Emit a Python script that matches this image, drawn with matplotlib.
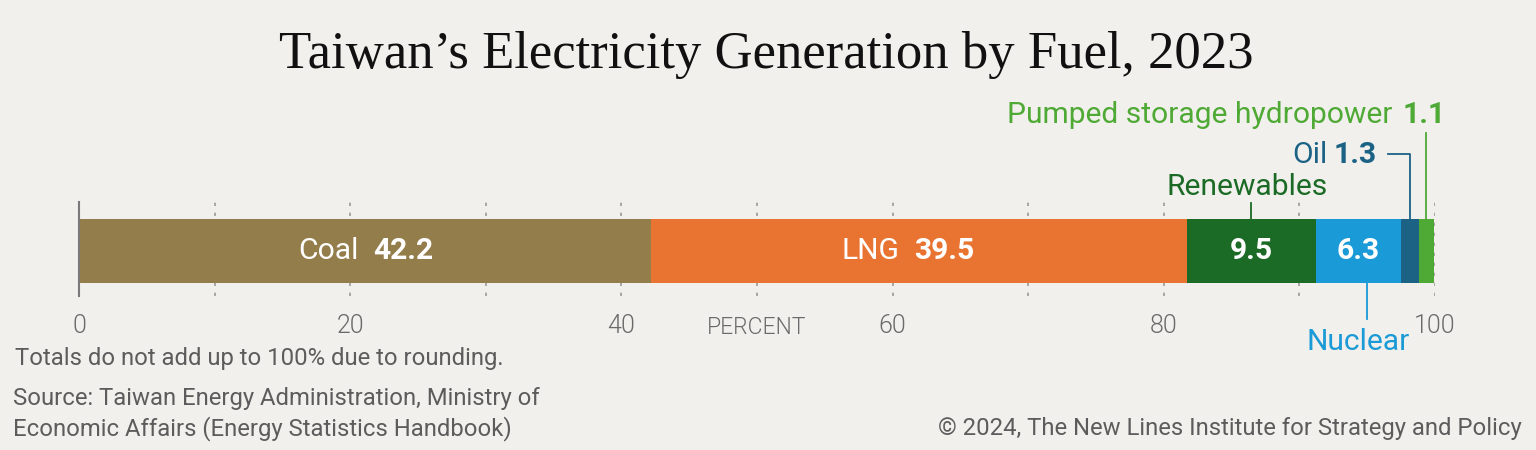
import matplotlib.pyplot as plt
import numpy as np

FIGSIZE = (15.36, 4.5)
BG = "#f1f0ec"
GRAY = "#5c5c5c"
LIGHT_GRAY = "#6a6a6a"

fuels = ["Coal", "LNG", "Renewables", "Nuclear", "Oil", "Pumped storage hydropower"]
shares = [42.2, 39.5, 9.5, 6.3, 1.3, 1.1]
colors = ["#937d4a", "#e97432", "#1b6b26", "#1a9ad6", "#1b6285", "#4fa935"]
tick_values = [0, 20, 40, 60, 80, 100]
grid_values = [10, 20, 30, 40, 50, 60, 70, 80, 90, 100]

plt.rcParams["font.family"] = ["Roboto", "DejaVu Sans"]

fig = plt.figure(figsize=FIGSIZE, dpi=100, facecolor=BG)
ax = fig.add_axes([79 / 1536, 1 - 296 / 450, (1435 - 79) / 1536, 94 / 450])
ax.set_facecolor(BG)

lefts = np.concatenate([[0], np.cumsum(shares)[:-1]])
mids = lefts + np.array(shares) / 2
bar_h = 0.68
ctr = 0.48
top = ctr + bar_h / 2
bottom = ctr - bar_h / 2

for g in grid_values:
    ax.axvline(g, color="#9a9a9a", lw=1.2, ls=(0, (2, 4)), zorder=0)

ax.barh(ctr, shares, left=lefts, height=bar_h, color=colors, zorder=2)

ax.set_xlim(0, 100)
ax.set_ylim(0, 1)
ax.set_yticks([])
ax.set_xticks(tick_values)
ax.set_xticklabels([str(t) for t in tick_values], fontweight=300)
ax.tick_params(axis="x", length=0, pad=13, labelsize=18, labelcolor=LIGHT_GRAY)
for s in ["top", "right", "bottom"]:
    ax.spines[s].set_visible(False)
ax.spines["left"].set_color("#7a7a7a")
ax.spines["left"].set_linewidth(1.5)
ax.spines["left"].set_zorder(3)

ax.text(50, -0.33, "PERCENT", ha="center", va="center", fontsize=16.5,
        color=LIGHT_GRAY, fontweight=300)

# labels inside the bar
big = 21.6
for i, gap in [(0, 0.05), (1, -0.9)]:
    ax.text(mids[i] + gap - 0.55, ctr, fuels[i], ha="right", va="center",
            fontsize=big, color="white", zorder=4)
    ax.text(mids[i] + gap + 0.55, ctr, f"{shares[i]}", ha="left", va="center",
            fontsize=big, color="white", fontweight="bold", zorder=4)
for i in [2, 3]:
    ax.text(mids[i], ctr, f"{shares[i]}", ha="center", va="center",
            fontsize=big, color="white", fontweight="bold", zorder=4)

# renewables callout
ax.plot([mids[2], mids[2]], [top, 0.99], color=colors[2], lw=1.3, clip_on=False)
ax.text(mids[2] - 0.3, 1.16, fuels[2], ha="center", va="center", fontsize=big,
        color=colors[2])

# nuclear callout
ax.plot([mids[3] + 0.6, mids[3] + 0.6], [bottom, -0.245], color=colors[3], lw=1.3,
        clip_on=False)
ax.text(mids[3], -0.49, fuels[3], ha="center", va="center", fontsize=big,
        color=colors[3])

# oil callout
ax.plot([mids[4] - 1.65, mids[4], mids[4]], [1.51, 1.51, top], color=colors[4],
        lw=1.3, clip_on=False)
ax.text(mids[4] - 2.45, 1.5, f"{shares[4]}", ha="right", va="center", fontsize=big,
        color=colors[4], fontweight="bold")
ax.text(mids[4] - 6.1, 1.5, fuels[4], ha="right", va="center", fontsize=big,
        color=colors[4])

# pumped storage callout
ax.plot([mids[5], mids[5]], [top, 1.734], color=colors[5], lw=1.3, clip_on=False)
ax.text(100.8, 1.93, f"{shares[5]}", ha="right", va="center", fontsize=big,
        color=colors[5], fontweight="bold")
ax.text(96.9, 1.93, fuels[5], ha="right", va="center", fontsize=big,
        color=colors[5])

fig.text(766 / 1536, 1 - 55 / 450, "Taiwan’s Electricity Generation by Fuel, 2023",
         ha="center", va="center", fontsize=38, family="Liberation Serif",
         color="#111111")

fig.text(15 / 1536, 1 - 358 / 450, "Totals do not add up to 100% due to rounding.",
         ha="left", va="center", fontsize=17.2, color=GRAY)
fig.text(13 / 1536, 1 - 414 / 450,
         "Source: Taiwan Energy Administration, Ministry of\n"
         "Economic Affairs (Energy Statistics Handbook)",
         ha="left", va="center", fontsize=17.2, color=GRAY, linespacing=1.35)
fig.text(1522 / 1536, 1 - 428 / 450,
         "© 2024, The New Lines Institute for Strategy and Policy",
         ha="right", va="center", fontsize=17.2, color=GRAY)

plt.savefig("out.png", dpi=100, facecolor=BG)
plt.close()
